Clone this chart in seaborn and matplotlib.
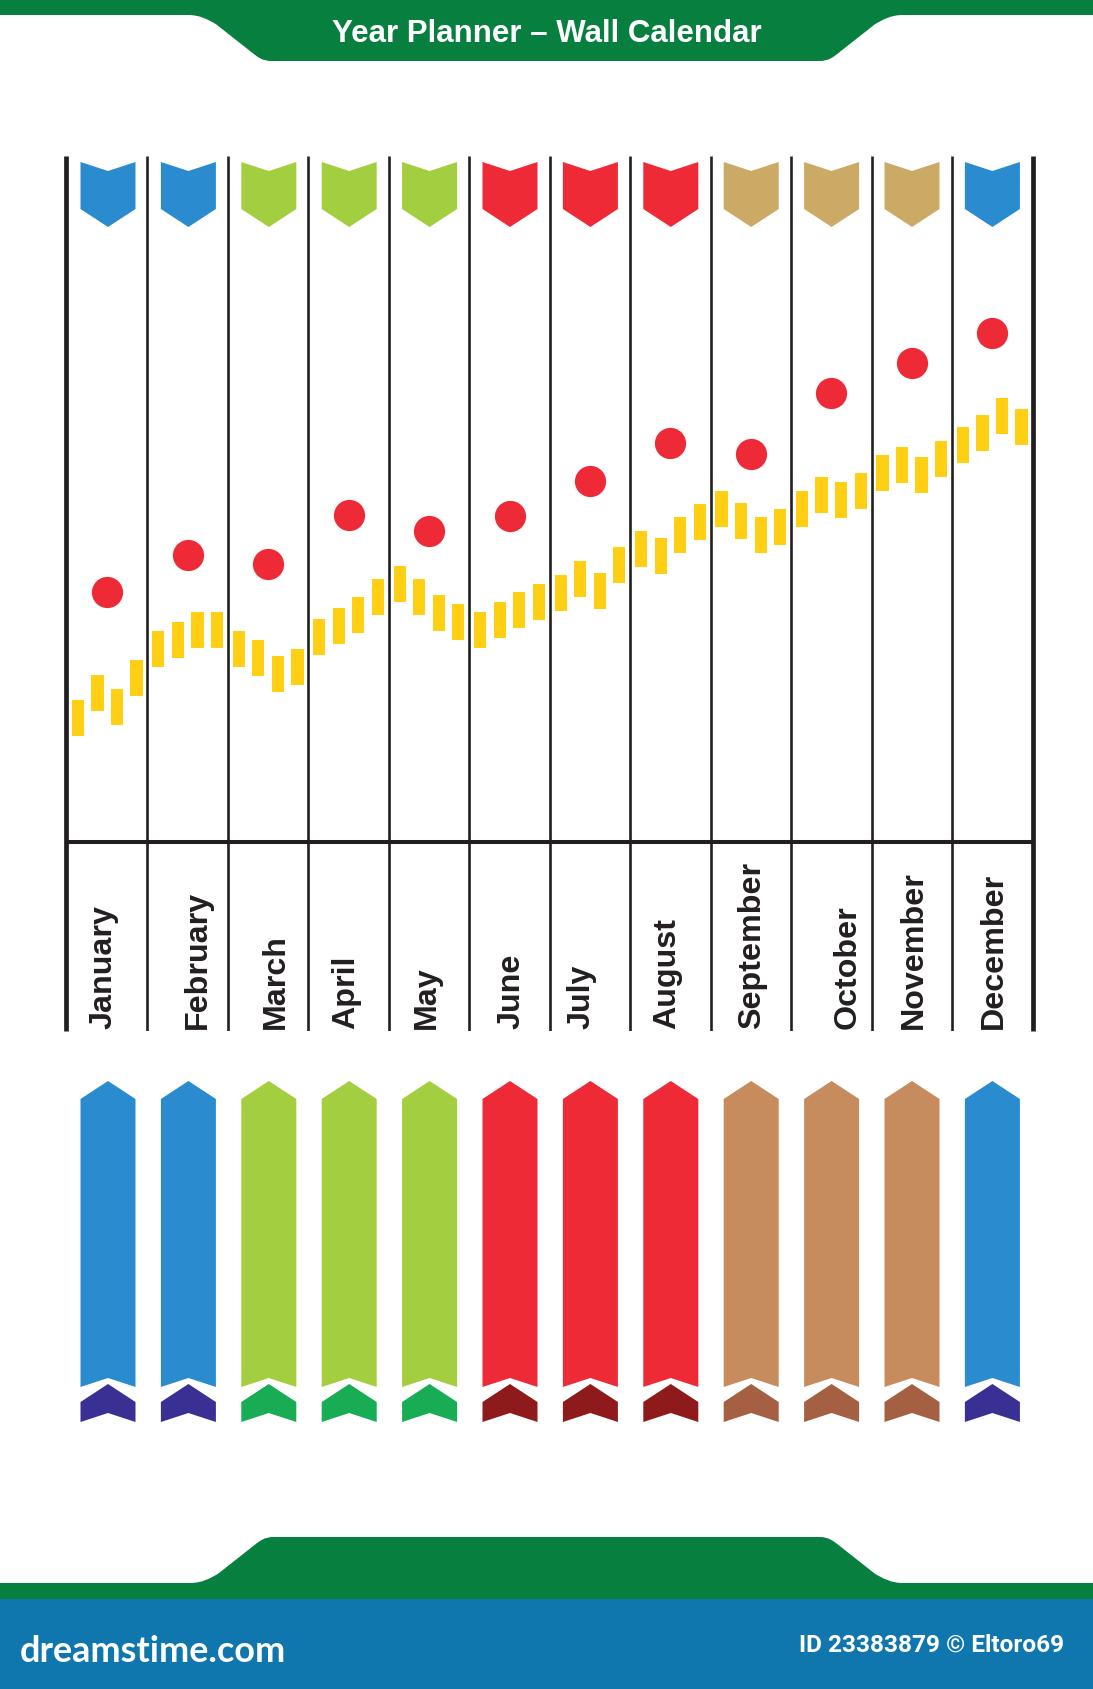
import matplotlib
matplotlib.use("Agg")
import matplotlib.pyplot as plt
from matplotlib.patches import PathPatch, Polygon
from matplotlib.path import Path
import numpy as np
import pandas as pd
import seaborn as sns

months = ["January", "February", "March", "April", "May", "June", "July",
          "August", "September", "October", "November", "December"]

# Red dot per month (height above the baseline, in chart units)
dot_values = [250, 287, 278, 327, 311, 326, 361, 399, 388, 449, 479, 509]

# Yellow weekly bars: centre height per week, month by month
week_values = [
    [124, 149, 135, 164],
    [193, 202, 212, 212],
    [193, 184, 168, 175],
    [205, 216, 227, 245],
    [258, 245, 229, 220],
    [212, 222, 232, 240],
    [249, 263, 251, 277],
    [293, 286, 307, 320],
    [333, 321, 307, 315],
    [333, 347, 342, 351],
    [369, 377, 367, 383],
    [397, 409, 426, 415],
]

# Season groups of the twelve months
month_group = ["winter", "winter", "spring", "spring", "spring", "summer",
               "summer", "summer", "autumn", "autumn", "autumn", "winter"]

flag_colors = {"winter": "#2A8CCF", "spring": "#A3CE3F", "summer": "#EE2A36", "autumn": "#CBAA66"}
ribbon_colors = {"winter": "#2A8CCF", "spring": "#A3CE3F", "summer": "#EE2A36", "autumn": "#C68C5E"}
tail_colors = {"winter": "#3A3093", "spring": "#18AD54", "summer": "#8E1A1B", "autumn": "#A56044"}

label_offsets = [0.45, 0.63, 0.60, 0.47, 0.47, 0.52, 0.40, 0.46, 0.51, 0.70, 0.53, 0.52]

GREEN = "#07803F"
BLUE = "#1076AE"
YELLOW = "#FFCF14"
RED = "#EE2A36"
INK = "#231F20"
W, H = 1093, 1690

sns.set_theme(style="white")
plt.rcParams["font.family"] = ["Liberation Sans", "DejaVu Sans"]

fig = plt.figure(figsize=(W / 100, H / 100), dpi=100, facecolor="white")

# Page-level decoration, in pixel units
deco = fig.add_axes([0, 0, 1, 1], zorder=0)
deco.set_xlim(0, W)
deco.set_ylim(H, 0)
deco.axis("off")


def band(ax, y_strip, y_tab, y_edge, x0, x1):
    """Green strip with a central tab joined by S-curves."""
    d = y_tab - y_strip
    verts = [(0, y_edge), (0, y_strip), (x0, y_strip),
             (x0 + 12, y_strip), (x0 + 20, y_strip + d * 0.10), (x0 + 28, y_strip + d * 0.2),
             (x0 + 63, y_strip + d * 0.8),
             (x0 + 70, y_strip + d * 0.92), (x0 + 74, y_tab), (x0 + 84, y_tab),
             (x1 - 84, y_tab),
             (x1 - 74, y_tab), (x1 - 70, y_strip + d * 0.92), (x1 - 63, y_strip + d * 0.8),
             (x1 - 28, y_strip + d * 0.2),
             (x1 - 20, y_strip + d * 0.10), (x1 - 12, y_strip), (x1, y_strip),
             (W, y_strip), (W, y_edge), (0, y_edge)]
    codes = [Path.MOVETO, Path.LINETO, Path.LINETO,
             Path.CURVE4, Path.CURVE4, Path.CURVE4,
             Path.LINETO,
             Path.CURVE4, Path.CURVE4, Path.CURVE4,
             Path.LINETO,
             Path.CURVE4, Path.CURVE4, Path.CURVE4,
             Path.LINETO,
             Path.CURVE4, Path.CURVE4, Path.CURVE4,
             Path.LINETO, Path.LINETO, Path.CLOSEPOLY]
    ax.add_patch(PathPatch(Path(verts, codes), fc=GREEN, ec="none"))


band(deco, 16, 62, 0, 188, 903)
band(deco, 1584, 1538, 1600, 190, 903)
deco.fill_between([0, W], 1600, H, color=BLUE, lw=0)

deco.text(547, 34, "Year Planner \u2013 Wall Calendar", color="white", fontsize=22.5,
          fontweight="bold", ha="center", va="center")
deco.text(20, 1652, "dreamstime.com", color="white", fontsize=25.9, family="Lato",
          fontweight="bold", ha="left", va="center")
deco.text(1064, 1645, "ID 23383879 \u00a9 Eltoro69", color="white", fontsize=17.6, family="Roboto",
          fontweight="bold", ha="right", va="center")

# Chart axes: y is the height above the baseline, x is the month index
ax = fig.add_axes([67 / W, 1 - 1032 / H, (1032.5 - 67) / W, (1032 - 157) / H], zorder=1)
ax.patch.set_alpha(0)
ax.set_xlim(0, 12)
ax.set_ylim(-189, 686)
sns.despine(ax=ax, left=True, bottom=True)
ax.set_xticks([])
ax.set_yticks([])

# Flags and ribbons, placed by month centre
half = 27.5
for i, g in enumerate(month_group):
    cx = 108 + 80.4 * i
    deco.add_patch(Polygon([(cx - half, 163), (cx, 172), (cx + half, 163), (cx + half, 210),
                            (cx, 228), (cx - half, 210)], fc=flag_colors[g], ec="none"))
    deco.add_patch(Polygon([(cx, 1082), (cx + half, 1100), (cx + half, 1388), (cx, 1379),
                            (cx - half, 1388), (cx - half, 1100)], fc=ribbon_colors[g], ec="none"))
    deco.add_patch(Polygon([(cx, 1385), (cx + half, 1403), (cx + half, 1423), (cx, 1414),
                            (cx - half, 1423), (cx - half, 1403)], fc=tail_colors[g], ec="none"))

# Grid lines
ax.vlines(range(1, 12), -189, 686, color=INK, lw=1.9, zorder=2)
ax.vlines([-0.012, 12], -189, 686, color=INK, lw=3.4, clip_on=False, zorder=2)
ax.hlines(0, 0, 12, color=INK, lw=2.9, zorder=2)

# Weekly bars
weeks = pd.DataFrame([
    {"x": m + 0.135 + w * 0.243, "value": v}
    for m, row in enumerate(week_values) for w, v in enumerate(row)
])
ax.bar(weeks["x"], 36, bottom=weeks["value"] - 18, width=12.2 / 80.46, color=YELLOW, lw=0, zorder=3)

# Monthly dots
dots = pd.DataFrame({"x": np.arange(12) + 0.5, "value": dot_values})
sns.scatterplot(data=dots, x="x", y="value", ax=ax, s=505, color=RED, linewidth=0, zorder=4, legend=False)
ax.set_xlabel("")
ax.set_ylabel("")

# Month labels
for i, name in enumerate(months):
    ax.text(i + label_offsets[i], -186, name, rotation=90, ha="center", va="bottom",
            fontsize=23.2, fontweight="bold", color=INK, zorder=5)

fig.savefig("out.png", dpi=100)
